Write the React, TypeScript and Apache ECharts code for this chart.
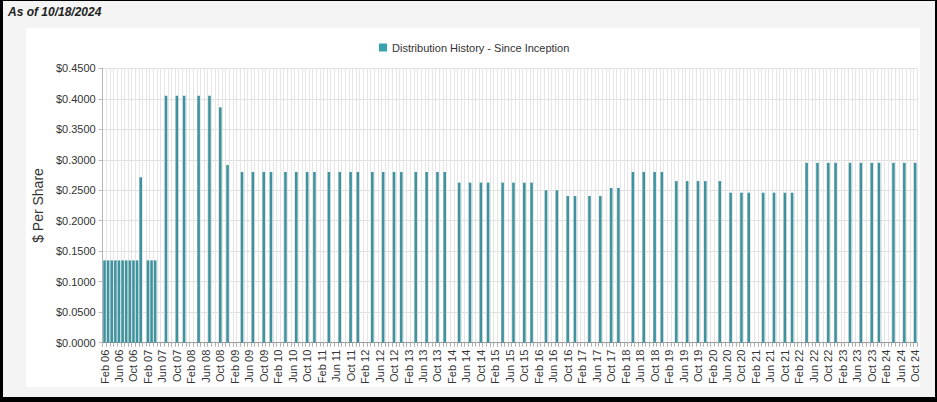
import React, { useEffect, useRef } from "react";
import * as echarts from "echarts";

const MONTHS = ["Jan", "Feb", "Mar", "Apr", "May", "Jun", "Jul", "Aug", "Sep", "Oct", "Nov", "Dec"];

// Category axis: one slot per month, Feb 06 .. Oct 24
const categories: string[] = [];
for (let y = 2006; y <= 2024; y++) {
  for (let m = 0; m < 12; m++) {
    if (y === 2006 && m < 1) continue;
    if (y === 2024 && m > 9) continue;
    categories.push(`${MONTHS[m]} ${String(y % 100).padStart(2, "0")}`);
  }
}

// Distribution months and amounts ($ per share)
const distMonths = [
  "Feb 06", "Mar 06", "Apr 06", "May 06", "Jun 06", "Jul 06", "Aug 06", "Sep 06", "Oct 06", "Nov 06", "Dec 06",
  "Feb 07", "Mar 07", "Apr 07", "Jul 07", "Oct 07", "Dec 07",
  "Apr 08", "Jul 08", "Oct 08", "Dec 08",
  "Apr 09", "Jul 09", "Oct 09", "Dec 09",
  "Apr 10", "Jul 10", "Oct 10", "Dec 10",
  "Apr 11", "Jul 11", "Oct 11", "Dec 11",
  "Apr 12", "Jul 12", "Oct 12", "Dec 12",
  "Apr 13", "Jul 13", "Oct 13", "Dec 13",
  "Apr 14", "Jul 14", "Oct 14", "Dec 14",
  "Apr 15", "Jul 15", "Oct 15", "Dec 15",
  "Apr 16", "Jul 16", "Oct 16", "Dec 16",
  "Apr 17", "Jul 17", "Oct 17", "Dec 17",
  "Apr 18", "Jul 18", "Oct 18", "Dec 18",
  "Apr 19", "Jul 19", "Oct 19", "Dec 19",
  "Apr 20", "Jul 20", "Oct 20", "Dec 20",
  "Apr 21", "Jul 21", "Oct 21", "Dec 21",
  "Apr 22", "Jul 22", "Oct 22", "Dec 22",
  "Apr 23", "Jul 23", "Oct 23", "Dec 23",
  "Apr 24", "Jul 24", "Oct 24",
];
const distValues = [
  0.135, 0.135, 0.135, 0.135, 0.135, 0.135, 0.135, 0.135, 0.135, 0.135, 0.2712,
  0.135, 0.135, 0.135, 0.405, 0.405, 0.405,
  0.405, 0.405, 0.386, 0.2913,
  0.28, 0.28, 0.28, 0.28,
  0.28, 0.28, 0.28, 0.28,
  0.28, 0.28, 0.28, 0.28,
  0.28, 0.28, 0.28, 0.28,
  0.28, 0.28, 0.28, 0.28,
  0.2625, 0.2625, 0.2625, 0.2625,
  0.2625, 0.2625, 0.2625, 0.2625,
  0.25, 0.25, 0.2405, 0.2405,
  0.2405, 0.2405, 0.2537, 0.2537,
  0.28, 0.28, 0.28, 0.28,
  0.265, 0.265, 0.265, 0.265,
  0.265, 0.246, 0.246, 0.246,
  0.246, 0.246, 0.246, 0.246,
  0.295, 0.295, 0.295, 0.295,
  0.295, 0.295, 0.295, 0.295,
  0.295, 0.295, 0.295,
];

const yTicks = { min: 0, max: 0.45, interval: 0.05 };

const FONT = 'Arial, "Liberation Sans", sans-serif';
const BAR = "#3f939f";

export default function App() {
  const ref = useRef<HTMLDivElement>(null);

  useEffect(() => {
    document.body.style.margin = "0";
    if (!ref.current) return;
    const chart = echarts.init(ref.current, undefined, { renderer: "svg" });

    const lookup = new Map<string, number>();
    distMonths.forEach((m, i) => lookup.set(m, distValues[i]));
    const seriesData = categories.map((c) => (lookup.has(c) ? lookup.get(c)! : null));

    chart.setOption({
      animation: false,
      backgroundColor: "#f4f4f4",
      textStyle: { fontFamily: FONT },
      graphic: [
        { type: "rect", shape: { x: 26, y: 28, width: 894, height: 359 }, style: { fill: "#ffffff" }, z: -10 },
        { type: "rect", shape: { x: 0, y: 0, width: 3, height: 402 }, style: { fill: "#000" } },
        { type: "rect", shape: { x: 0, y: 397, width: 937, height: 5 }, style: { fill: "#000" } },
        { type: "rect", shape: { x: 935, y: 0, width: 2, height: 402 }, style: { fill: "#000" } },
        { type: "rect", shape: { x: 0, y: 0, width: 937, height: 1 }, style: { fill: "#000" } },
        {
          type: "text",
          x: 8,
          y: 12,
          style: {
            text: "As of 10/18/2024",
            font: `italic bold 12px ${FONT}`,
            fill: "#222",
            verticalAlign: "middle",
          },
        },
      ],
      legend: {
        top: 37,
        left: 374,
        itemWidth: 8,
        itemHeight: 8,
        itemGap: 10,
        icon: "rect",
        textStyle: { fontSize: 11, color: "#333", fontFamily: FONT },
        data: [{ name: "Distribution History - Since Inception", itemStyle: { color: "#38a3b0" } }],
      },
      grid: { left: 102.7, right: 20, top: 68.3, bottom: 59.3, containLabel: false },
      xAxis: {
        type: "category",
        data: categories,
        boundaryGap: true,
        axisLine: { lineStyle: { color: "#9a9a9a", width: 1 } },
        axisTick: { show: true, interval: 0, length: 4, lineStyle: { color: "#b0b0b0" } },
        axisLabel: {
          interval: 3,
          rotate: 90,
          fontSize: 11,
          color: "#333",
          margin: 7,
          fontFamily: FONT,
        },
        splitLine: { show: true, interval: 0, lineStyle: { color: "#e6e6e6", width: 1 } },
      },
      yAxis: {
        type: "value",
        min: yTicks.min,
        max: yTicks.max,
        interval: yTicks.interval,
        name: "$ Per Share",
        nameLocation: "middle",
        nameGap: 52,
        nameTextStyle: { fontSize: 14, color: "#333", fontFamily: FONT },
        axisLine: { show: true, lineStyle: { color: "#b8b8b8" } },
        axisTick: { show: true, length: 4, lineStyle: { color: "#b8b8b8" } },
        axisLabel: {
          fontSize: 11,
          color: "#333",
          margin: 7,
          fontFamily: FONT,
          formatter: (v: number) => "$" + v.toFixed(4),
        },
        splitLine: { show: true, lineStyle: { color: "#dedede", width: 1 } },
      },
      series: [
        {
          name: "Distribution History - Since Inception",
          type: "bar",
          data: seriesData,
          barWidth: 2.6,
          itemStyle: { color: BAR },
        },
      ],
    });

    return () => chart.dispose();
  }, []);

  return (
    <div
      ref={ref}
      style={{ position: "absolute", left: 0, top: 0, width: 937, height: 402 }}
    />
  );
}
